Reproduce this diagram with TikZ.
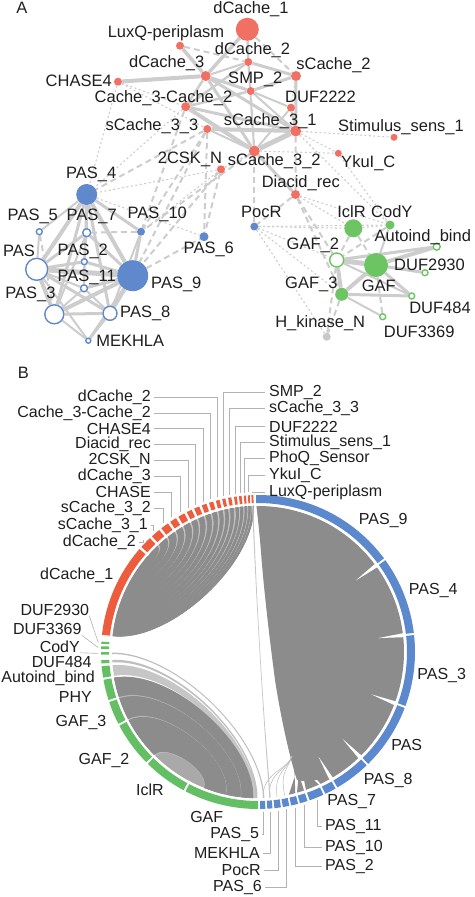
\documentclass[tikz,border=0pt]{standalone}
\usepackage{fontspec}
\setmainfont{Liberation Sans}
\usetikzlibrary{backgrounds}

\definecolor{nred}{RGB}{240,112,100}
\definecolor{nblue}{RGB}{96,136,204}
\definecolor{ngreen}{RGB}{108,196,98}
\definecolor{ngray}{RGB}{200,200,200}
\definecolor{segred}{RGB}{238,92,62}
\definecolor{segblue}{RGB}{92,136,206}
\definecolor{seggreen}{RGB}{100,190,100}
\definecolor{linkgray}{RGB}{205,205,205}
\definecolor{chord}{RGB}{140,140,140}
\definecolor{txt}{RGB}{30,30,30}

% one block of the outer ring
\newcommand{\ringseg}[3]{%
  \fill[#3] (#1:157) arc[start angle=#1,end angle=#2,radius=157]
    -- (#2:149) arc[start angle=#2,end angle=#1,radius=149] -- cycle;}
% ribbon from arc a1..a2 to arc b1..b2
\newcommand{\ribbon}[5]{%
  \pgfmathsetmacro\ribra{146*(1-0.6*abs(sin((#3-#2)/2)))}%
  \pgfmathsetmacro\ribrb{146*(1-0.6*abs(sin((#4-#1)/2)))}%
  \fill[#5] (#1:146) arc[start angle=#1,end angle=#2,radius=146]
    .. controls (#2:\ribra) and (#3:\ribra) .. (#3:146)
    arc[start angle=#3,end angle=#4,radius=146]
    .. controls (#4:\ribrb) and (#1:\ribrb) .. (#1:146) -- cycle;}

\begin{document}
\begin{tikzpicture}[x=1pt,y=-1pt,
  lbl/.style={font=\fontsize{16.5}{18}\selectfont,text=txt,inner sep=0pt},
  lblb/.style={font=\fontsize{16}{18}\selectfont,text=txt,inner sep=0pt},
  rn/.style={circle,fill=nred,inner sep=0pt,minimum size=#1},
  bn/.style={circle,fill=nblue,inner sep=0pt,minimum size=#1},
  gn/.style={circle,fill=ngreen,inner sep=0pt,minimum size=#1},
  bh/.style={circle,draw=nblue,fill=white,line width=1.4pt,inner sep=0pt,minimum size=#1},
  gh/.style={circle,draw=ngreen,fill=white,line width=1.4pt,inner sep=0pt,minimum size=#1},
  tie/.style={draw=linkgray,line width=#1},
  weak/.style={draw=linkgray,line width=2pt,dash pattern=on 6pt off 4pt},
  faint/.style={draw=linkgray,line width=1.1pt,dash pattern=on 2pt off 2.5pt},
  lead/.style={draw=black!30,line width=.6pt},
  fan/.style={fill=chord,draw=chord,line width=.7pt}]
\useasboundingbox (0,0) rectangle (474,897);

% ---------- A: network ----------
\node[lbl] (pa) at (22,8) {A};
\node[rn=23] (dc1) at (247.3,29.3) {};
\node[rn=8] (lux) at (180,45.7) {};
\node[rn=8] (dc2) at (248.3,62) {};
\node[rn=10] (sc2) at (296,76) {};
\node[rn=10] (dc3) at (205.7,76) {};
\node[rn=8] (smp) at (250.7,91) {};
\node[rn=8] (ch4) at (118,81.7) {};
\node[rn=9] (cc) at (185.7,106.7) {};
\node[rn=8] (duf22) at (291,107.7) {};
\node[rn=8] (sc33) at (207.3,129) {};
\node[rn=11] (sc31) at (295.7,131) {};
\node[rn=7] (stim) at (394,137.3) {};
\node[rn=11] (sc32) at (254.3,151) {};
\node[rn=7] (yku) at (338.3,153.3) {};
\node[rn=8] (csk) at (221,169.3) {};
\node[rn=9] (dia) at (295.5,194.5) {};
\node[bn=21] (p4) at (86.7,194.5) {};
\node[bh=6] (p5) at (39.3,231.7) {};
\node[bh=8] (p7) at (86.7,232.7) {};
\node[bn=8] (p10) at (141,231.7) {};
\node[bn=9] (p6) at (204,236.7) {};
\node[bh=22] (pas) at (36.7,269.3) {};
\node[bh=6] (p2) at (84.3,261.7) {};
\node[bn=31] (p9) at (132.7,275.7) {};
\node[bh=7] (p11) at (84,288.3) {};
\node[bh=19] (p3) at (54.3,314.3) {};
\node[bh=14] (p8) at (110,313.3) {};
\node[bh=5] (mek) at (88.3,340.7) {};
\node[bn=8] (pocr) at (254.3,226.5) {};
\node[gn=18] (icl) at (353.3,228.3) {};
\node[gn=9] (cody) at (390,225) {};
\node[gh=7] (auto) at (436.7,246.7) {};
\node[gh=14] (gaf2) at (336.7,260) {};
\node[gn=24] (gaf) at (376,265) {};
\node[gh=6] (duf29) at (425,272.7) {};
\node[gn=13] (gaf3) at (341.7,294.3) {};
\node[gh=6] (duf48) at (411.7,296) {};
\node[gh=6] (duf33) at (382.7,316.7) {};
\node[circle,fill=ngray,inner sep=0pt,minimum size=8] (hk) at (326.7,336.7) {};

\begin{pgfonlayer}{background}
\foreach \u/\v/\w in {lux/dc3/3.5,dc1/dc3/3.5,dc1/dc2/2.5,dc2/sc2/3,dc2/dc3/2,dc3/ch4/4,
  dc3/smp/3,dc3/sc31/3,dc3/sc32/3,dc3/cc/2.5,cc/sc32/4,cc/sc31/3,cc/dc2/2.5,cc/smp/2.5,
  sc33/sc31/4,sc33/sc32/2,smp/sc2/3,smp/sc31/2,smp/duf22/2,sc31/sc32/5,sc31/sc2/3,
  sc31/duf22/2,sc32/duf22/2,sc32/dia/3,sc32/dc2/2,
  p4/pas/4,p4/p9/4,p4/p3/3,p4/p8/3,p4/p7/3,p4/p2/2,p4/p11/2,p4/p10/3,p4/p5/2,pas/p9/5,
  pas/p3/4,pas/p8/3,pas/p7/3,pas/p2/3,pas/p11/2,pas/mek/2,pas/p5/2,p9/p3/4,p9/p8/4,
  p9/p7/3,p9/p2/3,p9/p11/3,p9/mek/3,p9/p10/3,p3/p8/3,p3/p11/2,p3/p7/2,p8/mek/2,
  p8/p11/2,p10/p8/2,p3/mek/2,
  gaf/gaf2/5,gaf/gaf3/4,gaf2/gaf3/4,gaf/auto/4,gaf2/auto/3,gaf/duf29/3,gaf2/duf29/2,
  gaf/duf48/3,gaf3/duf48/3,gaf3/duf33/2,gaf2/duf48/2,cody/gaf/2}
  {\draw[tie=\w] (\u) -- (\v);}
\foreach \u/\v in {dc1/sc2,sc32/smp,sc31/dia,dc2/smp,lux/dc2,sc33/p4,sc33/p10,sc33/p6,
  csk/p6,sc33/p9,cc/p10,sc32/pocr,dia/pocr,p9/p6,p7/p2,p2/p11,p5/p3,p10/p7,gaf/duf33,
  cody/gaf2,icl/gaf2,icl/gaf,gaf3/hk,gaf2/hk,dia/gaf2,dia/gaf3,sc32/p10,csk/p9}
  {\draw[weak] (\u) -- (\v);}
\foreach \u/\v in {ch4/cc,ch4/sc33,ch4/p4,sc31/stim,sc31/yku,sc32/yku,sc2/duf22,
  csk/sc32,csk/sc31,cc/p4,csk/p4,p4/p6,dia/icl,dia/cody,sc31/cody,yku/cody,pocr/icl,
  pocr/cody,pocr/gaf2,pocr/gaf3,icl/cody,pocr/hk,p10/csk}
  {\draw[faint] (\u) -- (\v);}
\end{pgfonlayer}

\node[lbl] (t-dc1) at (251,9.5) {dCache\_1};
\node[lbl] (t-lux) at (166,33) {LuxQ-periplasm};
\node[lbl] (t-dc2) at (252.5,50) {dCache\_2};
\node[lbl] (t-sc2) at (333.5,65) {sCache\_2};
\node[lbl] (t-dc3) at (166.7,62.7) {dCache\_3};
\node[lbl] (t-smp) at (255.3,79.3) {SMP\_2};
\node[lbl] (t-ch4) at (78.7,81) {CHASE4};
\node[lbl] (t-duf22) at (320.5,97.3) {DUF2222};
\node[lbl] (t-cc) at (163.5,97.7) {Cache\_3-Cache\_2};
\node[lbl] (t-sc31) at (270.3,120.7) {sCache\_3\_1};
\node[lbl] (t-sc33) at (152,125.7) {sCache\_3\_3};
\node[lbl] (t-stim) at (401,126.7) {Stimulus\_sens\_1};
\node[lbl] (t-csk) at (190,159) {2CSK\_N};
\node[lbl] (t-sc32) at (274.3,160.7) {sCache\_3\_2};
\node[lbl] (t-yku) at (368.3,163.3) {YkuI\_C};
\node[lbl] (t-p4) at (91.2,174) {PAS\_4};
\node[lbl] (t-dia) at (300.8,182.7) {Diacid\_rec};
\node[lbl] (t-pocr) at (261.3,211.7) {PocR};
\node[lbl] (t-icl) at (351.5,211.7) {IclR};
\node[lbl] (t-cody) at (391.8,211.7) {CodY};
\node[lbl] (t-p5) at (32.8,216) {PAS\_5};
\node[lbl] (t-p7) at (91.7,216) {PAS\_7};
\node[lbl] (t-p10) at (157.2,214) {PAS\_10};
\node[lbl] (t-auto) at (422.8,236.7) {Autoind\_bind};
\node[lbl] (t-gaf2) at (312.8,245) {GAF\_2};
\node[lbl] (t-p6) at (208.8,249) {PAS\_6};
\node[lbl] (t-pas) at (19,251) {PAS};
\node[lbl] (t-p2) at (82.8,251) {PAS\_2};
\node[lbl] (t-duf29) at (429.5,265) {DUF2930};
\node[lbl] (t-p11) at (86.7,277.3) {PAS\_11};
\node[lbl] (t-p9) at (176.3,284) {PAS\_9};
\node[lbl] (t-gaf) at (378.8,286) {GAF};
\node[lbl] (t-gaf3) at (311.3,284.3) {GAF\_3};
\node[lbl] (t-p3) at (30.5,294.3) {PAS\_3};
\node[lbl] (t-duf48) at (440,308.3) {DUF484};
\node[lbl] (t-p8) at (145.3,313.3) {PAS\_8};
\node[lbl] (t-hk) at (320.2,322.7) {H\_kinase\_N};
\node[lbl] (t-duf33) at (419.2,331.7) {DUF3369};
\node[lbl] (t-mek) at (130.2,340.7) {MEKHLA};

% ---------- B: chord diagram ----------
\node[lbl] (pb) at (23.3,372.7) {B};
\begin{scope}[shift={(258,652)}]
  % PAS block
  \fill[chord] (-90.6:146) arc[start angle=-90.6,end angle=60.2,radius=146]
    .. controls (55,128) and (45,130) .. (39,128)
    .. controls (30,100) and (22,60) .. (17,28)
    .. controls (12,-10) and (6,-60) .. (3,-100)
    .. controls (1,-125) and (-1,-140) .. (-90.6:146) -- cycle;
  \foreach \g in {-36.2,-6.6,20.5,45.8,60}
    {\fill[white] (\g-0.8:147) -- (\g:121) -- (\g+0.8:147) -- cycle;}
  \foreach \a/\b in {60.6/64.6,65.4/70.8,71.6/74.5,75.2/77.8}
    {\fill[chord] (\a:146) -- (\b:146) -- (42,108) -- (36,108) -- cycle;}
  \foreach \a in {79.5,82.5,85.5,88}
    {\draw[chord!60,line width=.5pt] (\a:146) .. controls (\a:120) and (30,118) .. (34,104);}
  % dCache_1 fan
  \ribbon{186.3}{221}{222}{268.3}{chord!55}
  \foreach \a/\b/\c/\d in {216.03/221/222/226.5,212.16/216.03/227.5/231,208.85/212.16/232/235,
    206.08/208.85/236/238.5,203.32/206.08/239.5/242,201.11/203.32/243/245,198.9/201.11/246/248,
    196.91/198.9/249/250.8,195.14/196.91/251.8/253.4,193.59/195.14/254.4/255.8,
    192.26/193.59/256.8/258,190.93/192.26/259/260.2,189.83/190.93/261.2/262.2,
    188.72/189.83/263/264,187.84/188.72/264.8/265.6,187.07/187.84/266.3/267,186.3/187.07/267.6/268.3}
    {\ribbon{\a}{\b}{\c}{\d}{fan}}
  % GAF fan
  \ribbon{90.5}{117.5}{118.3}{169.8}{chord!60}
  \ribbon{112}{117.5}{118.3}{134.6}{chord!75}
  \ribbon{103}{111.5}{135.4}{152}{fan}
  \ribbon{97}{102.5}{152.8}{161.4}{fan}
  \ribbon{92}{96.5}{162.2}{169.8}{fan}
  \ribbon{91}{91.7}{170.6}{174.8}{chord!50}
  % thin links
  \ribbon{90.2}{90.8}{175.9}{176.9}{black!25}
  \ribbon{87.5}{88}{179.2}{179.8}{black!25}
  \ribbon{85}{85.5}{267.7}{268.2}{black!22}
  % ring
  \foreach \a/\b in {186.3/221,222/226.5,227.5/231,232/235,236/238.5,239.5/242,243/245,
    246/248,249/250.8,251.8/253.4,254.4/255.8,256.8/258,259/260.2,261.2/262.2,263/264,
    264.8/265.6,266.3/267,267.6/268.3}
    {\ringseg{\a}{\b}{segred}}
  \foreach \a/\b in {-90.7/-36.6,-35.8/-7,-6.2/20.1,20.9/45.4,46.2/59.6,60.4/64.6,65.4/70.8,
    71.6/74.5,75.2/77.8,78.5/80.9,81.6/84,84.7/86.6,87.3/89.2}
    {\ringseg{\a}{\b}{segblue}}
  \foreach \a/\b in {90/117.5,118.3/134.6,135.4/152,152.8/161.4,162.2/169.8,170.6/174.8,
    175.8/177,179/180,181.1/182.1,183/183.8}
    {\ringseg{\a}{\b}{seggreen}}
  % leader ends
  \foreach \n/\m in {1/224.25,2/229.25,3/233.5,4/237.25,5/240.75,6/244,7/247,8/249.9,9/252.6,
    10/255.1,11/257.4,12/259.6,13/261.7,14/263.5,15/265.2,16/266.65,17/267.95}
    {\coordinate (rp\n) at (\m:160);}
  \coordinate (rp-p11) at (68.1:160);
  \coordinate (rp-p10) at (73.05:160);
  \coordinate (rp-p2) at (76.5:160);
  \coordinate (rp-p6) at (79.7:160);
  \coordinate (rp-pocr) at (82.8:160);
  \coordinate (rp-mek) at (85.65:160);
  \coordinate (rp-p5) at (88.25:160);
  \coordinate (rp-duf29) at (183.4:160);
  \coordinate (rp-duf33) at (181.6:160);
  \coordinate (rp-cody) at (179.5:160);
\end{scope}

\node[lblb,anchor=east] (b-dc2t) at (151,397) {dCache\_2};
\node[lblb,anchor=east] (b-cc) at (151,413) {Cache\_3-Cache\_2};
\node[lblb,anchor=east] (b-ch4) at (151,428.5) {CHASE4};
\node[lblb,anchor=east] (b-dia) at (151,444.5) {Diacid\_rec};
\node[lblb,anchor=east] (b-csk) at (151,460.5) {2CSK\_N};
\node[lblb,anchor=east] (b-dc3) at (151,476) {dCache\_3};
\node[lblb,anchor=east] (b-chase) at (151,492) {CHASE};
\node[lblb,anchor=east] (b-sc32) at (151,508.3) {sCache\_3\_2};
\node[lblb,anchor=east] (b-sc31) at (148,525) {sCache\_3\_1};
\node[lblb,anchor=east] (b-dc2b) at (136,542.7) {dCache\_2};
\node[lblb] (b-dc1) at (76.7,575) {dCache\_1};
\node[lblb,anchor=west] (b-smp) at (269,392) {SMP\_2};
\node[lblb,anchor=west] (b-sc33) at (269,408) {sCache\_3\_3};
\node[lblb,anchor=west] (b-duf22) at (269,426.7) {DUF2222};
\node[lblb,anchor=west] (b-stim) at (269,442.7) {Stimulus\_sens\_1};
\node[lblb,anchor=west] (b-phoq) at (269,458.5) {PhoQ\_Sensor};
\node[lblb,anchor=west] (b-yku) at (269,475) {YkuI\_C};
\node[lblb,anchor=west] (b-lux) at (269,492.7) {LuxQ-periplasm};
\node[lblb] (b-p9) at (383.3,520) {PAS\_9};
\node[lblb] (b-p4) at (433.3,590) {PAS\_4};
\node[lblb] (b-p3) at (441.7,675) {PAS\_3};
\node[lblb] (b-pas) at (406.7,745) {PAS};
\node[lblb] (b-p8) at (388.3,780) {PAS\_8};
\node[lblb] (b-p7) at (351.7,801.7) {PAS\_7};
\node[lblb,anchor=west] (b-p11) at (325,826) {PAS\_11};
\node[lblb,anchor=west] (b-p10) at (325,847.7) {PAS\_10};
\node[lblb,anchor=west] (b-p2) at (325,866) {PAS\_2};
\node[lblb,anchor=east] (b-p5) at (259.3,834) {PAS\_5};
\node[lblb,anchor=east] (b-mek) at (260,853) {MEKHLA};
\node[lblb,anchor=east] (b-pocr) at (261,870.5) {PocR};
\node[lblb,anchor=east] (b-p6) at (262,887) {PAS\_6};
\node[lblb] (b-gaf) at (206.7,816.7) {GAF};
\node[lblb] (b-icl) at (150,790) {IclR};
\node[lblb] (b-gaf2) at (104,760) {GAF\_2};
\node[lblb] (b-gaf3) at (81,722.7) {GAF\_3};
\node[lblb] (b-phy) at (75.3,697.3) {PHY};
\node[lblb,anchor=east] (b-auto) at (95,678.3) {Autoind\_bind};
\node[lblb,anchor=east] (b-duf48) at (91.7,661.7) {DUF484};
\node[lblb,anchor=east] (b-cody) at (80,646.7) {CodY};
\node[lblb,anchor=east] (b-duf33) at (81.7,629.3) {DUF3369};
\node[lblb,anchor=east] (b-duf29) at (89.3,610) {DUF2930};

% leaders
\foreach \t/\n in {dc2t/10,cc/9,ch4/8,dia/7,csk/6,dc3/5,chase/4,sc32/3,sc31/2,dc2b/1}
  {\draw[lead] ([xshift=3pt]b-\t.east) -| (rp\n);}
\foreach \t/\n in {smp/11,sc33/12,duf22/13,stim/14,phoq/15,yku/16,lux/17}
  {\draw[lead] ([xshift=-4pt]b-\t.west) -| (rp\n);}
\foreach \t in {p11,p10,p2}
  {\draw[lead] (rp-\t) |- ([xshift=-3pt]b-\t.west);}
\foreach \t in {p5,mek,pocr,p6}
  {\draw[lead] (rp-\t) |- ([xshift=3pt]b-\t.east);}
\foreach \t in {duf29,duf33,cody}
  {\draw[lead] (b-\t.south east) -- (rp-\t);}
\end{tikzpicture}
\end{document}
